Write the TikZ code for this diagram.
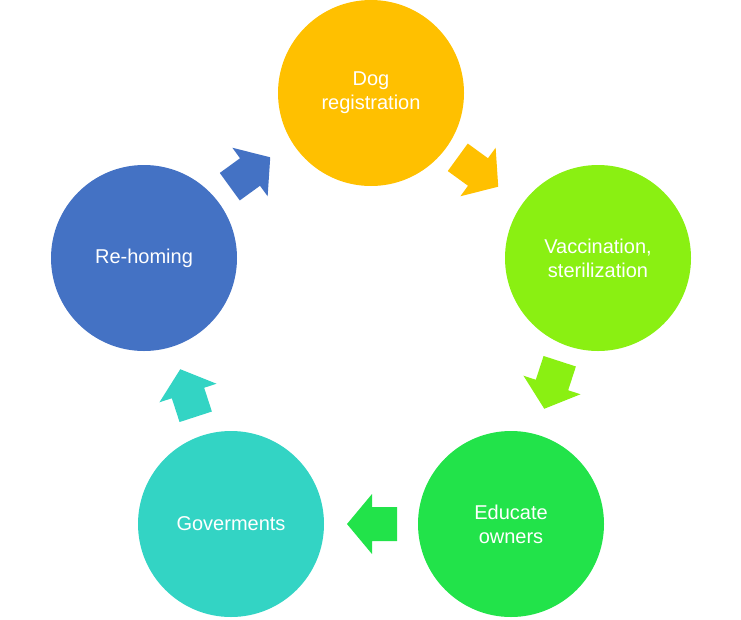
\documentclass[tikz,border=0pt]{standalone}
\usepackage{fontspec}
\setmainfont{Liberation Sans}
\definecolor{cA}{HTML}{FFC000}
\definecolor{cB}{HTML}{8AF012}
\definecolor{cC}{HTML}{22E34A}
\definecolor{cD}{HTML}{33D4C4}
\definecolor{cE}{HTML}{4472C4}
\newcommand\blockarr[4]{\fill[#4, shift={(#1,#2)}, rotate=#3] (-25,-17) -- (0,-17) -- (0,-30) -- (25,0) -- (0,30) -- (0,17) -- (-25,17) -- cycle;}
\begin{document}
\begin{tikzpicture}[x=1pt,y=-1pt,
  stage/.style={circle, minimum size=186pt, inner sep=0pt, text=white, align=center,
    font=\fontsize{20}{24}\selectfont}]
\useasboundingbox (0,0) rectangle (741,619);
\node[stage, fill=cA] (dog) at (371,93) {Dog\\registration};
\node[stage, fill=cB] (vac) at (598,258) {Vaccination,\\sterilization};
\node[stage, fill=cC] (edu) at (511,524) {Educate\\owners};
\node[stage, fill=cD] (gov) at (231,524) {Goverments};
\node[stage, fill=cE] (reh) at (144,258) {Re-homing};
\blockarr{478}{172}{-36}{cA}
\blockarr{552}{385}{-108}{cB}
\blockarr{372}{524}{180}{cC}
\blockarr{188}{393}{108}{cD}
\blockarr{250}{172}{36}{cE}
\end{tikzpicture}
\end{document}
